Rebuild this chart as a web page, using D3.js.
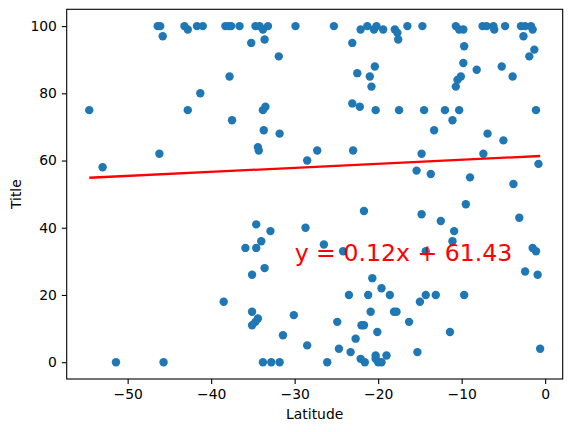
<!DOCTYPE html>
<html>
<head>
<meta charset="utf-8">
<script src="https://cdn.jsdelivr.net/npm/d3@7"></script>
<style>
  body { margin: 0; background: #fff; }
  svg { display: block; font-family: "DejaVu Sans", sans-serif; }
</style>
</head>
<body>
<div id="chart"></div>
<script>
// latitude of each city
var lats = [
  -46.4, -46.1, -45.8, -43.2, -42.8, -41.7, -41.0, -38.3, -37.9, -37.6,
  -36.6, -34.7, -34.2, -33.8, -33.2, -29.9, -25.3, -22.1, -21.3, -20.5,
  -20.2, -19.4, -18.0, -17.7, -17.6, -16.5, -14.7, -10.7, -10.3, -9.8,
  -7.5, -7.0, -6.2, -6.1, -4.8, -2.9, -2.4, -1.7, -1.5,
  -35.2, -33.6, -31.9, -37.8, -41.3, -42.8, -54.6, -33.8, -33.5, -37.5,
  -33.7, -31.8, -23.1, -20.4, -22.5, -21.0, -20.8, -23.1, -22.2, -20.3,
  -17.5, -14.5, -13.3, -2.6, -9.7, -1.3, -1.9, -9.8, -8.2, -5.2,
  -3.9, -10.1, -10.5, -10.7, -12.0, -10.3, -1.1, -11.1, -6.9,
  -53.0, -46.2, -34.4, -34.3, -28.5, -27.3, -23.0, -14.8, -15.4, -13.7,
  -5.0, -7.4, -0.8, -9.0, -3.8, -9.5, -3.1, -12.5, -10.9, -11.1,
  -1.5, -1.1, -34.6, -32.9, -28.7, -34.0, -35.9, -34.6, -21.7, -14.8,
  -26.5, -24.2, -14.3,
  -51.4, -45.7, -33.6, -35.1, -38.5, -35.1, -34.4, -34.7, -35.1, -30.1,
  -31.4, -28.5, -33.8, -32.8, -31.8, -20.7, -19.6, -23.5, -21.2, -18.6,
  -15.0, -14.3, -13.1, -9.7, -20.9, -18.1, -17.8, -24.9, -22.0, -21.7,
  -16.3, -20.1, -11.4, -22.7, -24.7, -23.3, -20.3, -19.0, -15.3, -26.1,
  -22.1, -21.6, -20.3, -20.0, -19.6, -2.4, -0.9, -0.6
];
// value plotted on the y axis
var values = [
  100, 100, 97, 100, 99, 100, 100, 100, 100, 100,
  100, 100, 100, 99, 100, 100, 100, 99, 100, 99,
  100, 99, 99, 98, 96, 100, 100, 100, 99, 99,
  100, 100, 100, 99, 100, 100, 100, 100, 99,
  95, 96, 91, 85, 80, 75, 75, 75, 76, 72,
  69, 68, 95, 88, 86, 85, 82, 77, 76, 75,
  75, 75, 69, 97, 94, 93, 91, 89, 87, 88,
  85, 85, 84, 82, 75, 75, 75, 72, 68,
  58, 62, 64, 63, 60, 63, 63, 62, 57, 56,
  66, 62, 59, 55, 53, 47, 43, 42, 39, 36,
  34, 33, 41, 39, 40, 36, 34, 34, 45, 44,
  35, 33, 33,
  0, 0, 28, 26, 18, 15, 13, 12, 11, 14,
  8, 5, 0, 0, 0, 25, 22, 20, 20, 20,
  18, 20, 20, 20, 15, 15, 15, 12, 11, 11,
  12, 9, 9, 7, 4, 3, 2, 2, 3, 0,
  1, 0, 1, 0, 0, 27, 26, 4
];
var xTicks = [-50, -40, -30, -20, -10, 0];
var yTicks = [0, 20, 40, 60, 80, 100];
var slope = 0.12, intercept = 61.43;
var fitLabel = 'y = 0.12x + 61.43';

var W = 571, H = 432;
var margin = {left: 66.7, top: 9.3, right: 571 - 562.7, bottom: 432 - 379};
var iw = W - margin.left - margin.right, ih = H - margin.top - margin.bottom;

var svg = d3.select('#chart').append('svg').attr('width', W).attr('height', H);
var g = svg.append('g').attr('transform', 'translate(' + margin.left + ',' + margin.top + ')');

// matplotlib style 5% margins
var xExt = d3.extent(lats), yExt = d3.extent(values);
var xPad = (xExt[1] - xExt[0]) * 0.05, yPad = (yExt[1] - yExt[0]) * 0.05;
var x = d3.scaleLinear().domain([xExt[0] - xPad, xExt[1] + xPad]).range([0, iw]);
var y = d3.scaleLinear().domain([yExt[0] - yPad, yExt[1] + yPad]).range([ih, 0]);

var fmt = function(d) { return d < 0 ? '\u2212' + Math.abs(d) : '' + d; };

var xAxis = g.append('g').attr('transform', 'translate(0,' + ih + ')')
  .call(d3.axisBottom(x).tickValues(xTicks).tickFormat(fmt).tickSize(4.9).tickPadding(4.9));
var yAxis = g.append('g')
  .call(d3.axisLeft(y).tickValues(yTicks).tickFormat(fmt).tickSize(4.9).tickPadding(4.9));
[xAxis, yAxis].forEach(function(a) {
  a.select('.domain').remove();
  a.selectAll('line').attr('stroke', '#000').attr('stroke-width', 1.1);
  a.selectAll('text').attr('fill', '#000').style('font-size', '13.9px')
    .style('font-family', '"DejaVu Sans", sans-serif');
});

// points
g.selectAll('circle.pt').data(lats).enter().append('circle')
  .attr('class', 'pt')
  .attr('cx', function(d) { return x(d); })
  .attr('cy', function(d, i) { return y(values[i]); })
  .attr('r', 4.2)
  .attr('fill', '#1f77b4');

// regression line
g.append('line')
  .attr('x1', x(xExt[0])).attr('y1', y(slope * xExt[0] + intercept))
  .attr('x2', x(xExt[1])).attr('y2', y(slope * xExt[1] + intercept))
  .attr('stroke', 'red').attr('stroke-width', 2.3);

g.append('text')
  .attr('x', x(-30)).attr('y', y(30))
  .attr('fill', 'red')
  .style('font-size', '23.6px')
  .text(fitLabel);

// frame
g.append('rect').attr('width', iw).attr('height', ih)
  .attr('fill', 'none').attr('stroke', '#000').attr('stroke-width', 1.1);

svg.append('text')
  .attr('x', margin.left + iw / 2).attr('y', 419)
  .attr('text-anchor', 'middle').style('font-size', '13.9px')
  .text('Latitude');

svg.append('text')
  .attr('transform', 'translate(21,' + (margin.top + ih / 2) + ') rotate(-90)')
  .attr('text-anchor', 'middle').style('font-size', '13.9px')
  .text('Title');
</script>
</body>
</html>
